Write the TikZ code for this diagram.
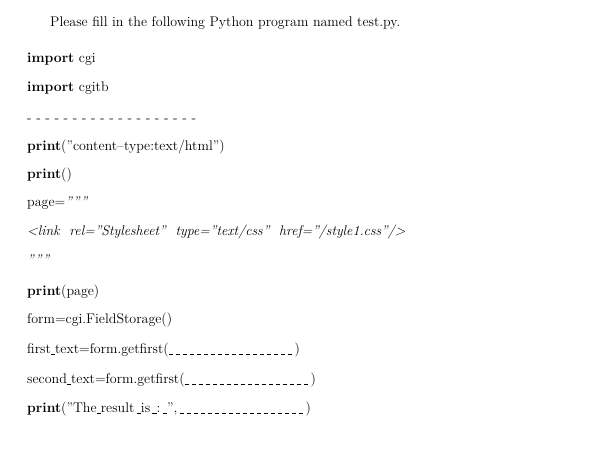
\documentclass[tikz,border=0pt]{standalone}
\usepackage{fontspec}
\newcommand{\lsp}{\addfontfeatures{LetterSpace=14}}
\newcommand{\ub}{\rule[-0.5pt]{0.28em}{0.5pt}\hspace{0.22em}}
\newcommand{\blank}{\ub\ub\ub\ub\ub\ub\ub\ub\ub\ub\ub\ub\ub\ub\ub\ub\ub\ub}
\newcommand{\vsp}{\rule[-0.5pt]{0.3em}{0.5pt}}
\begin{document}
\begin{tikzpicture}[x=1pt,y=-1pt,
  ln/.style={anchor=base west,inner sep=0pt,font=\fontsize{14}{17}\selectfont}]
\useasboundingbox (0,0) rectangle (603,454);
\node[ln] (t) at (50,27) {Please fill in the following Python program named test.py.};
\node[ln] (l1) at (27,63) {\textbf{import} {\lsp cgi}};
\node[ln] (l2) at (27,92) {\textbf{import} {\lsp cgitb}};
\node[ln] (l3) at (27,123) {\lsp - - - - - - - - - - - - - - - - - - -};
\node[ln] (l4) at (27,151) {\lsp\textbf{print}("content--type:text/html")};
\node[ln] (l5) at (27,179) {\lsp\textbf{print}()};
\node[ln] (l6) at (27,207) {\lsp page=\textit{"""}};
\node[ln] (l7) at (27,236) {\lsp\itshape <link\ \ rel="Stylesheet"\ \ type="text/css"\ \ href="/style1.css"/>};
\node[ln] (l8) at (27,265) {\lsp\itshape """};
\node[ln] (l9) at (27,296) {\lsp\textbf{print}(page)};
\node[ln] (l10) at (27,324) {\lsp form=cgi.FieldStorage()};
\node[ln] (l11) at (27,354) {\lsp first\vsp text=form.getfirst(\blank)};
\node[ln] (l12) at (27,384) {\lsp second\vsp text=form.getfirst(\blank)};
\node[ln] (l13) at (27,413) {\lsp\textbf{print}("The\vsp result\,\vsp is\,\vsp:\,\vsp",\,\blank)};
\end{tikzpicture}
\end{document}
